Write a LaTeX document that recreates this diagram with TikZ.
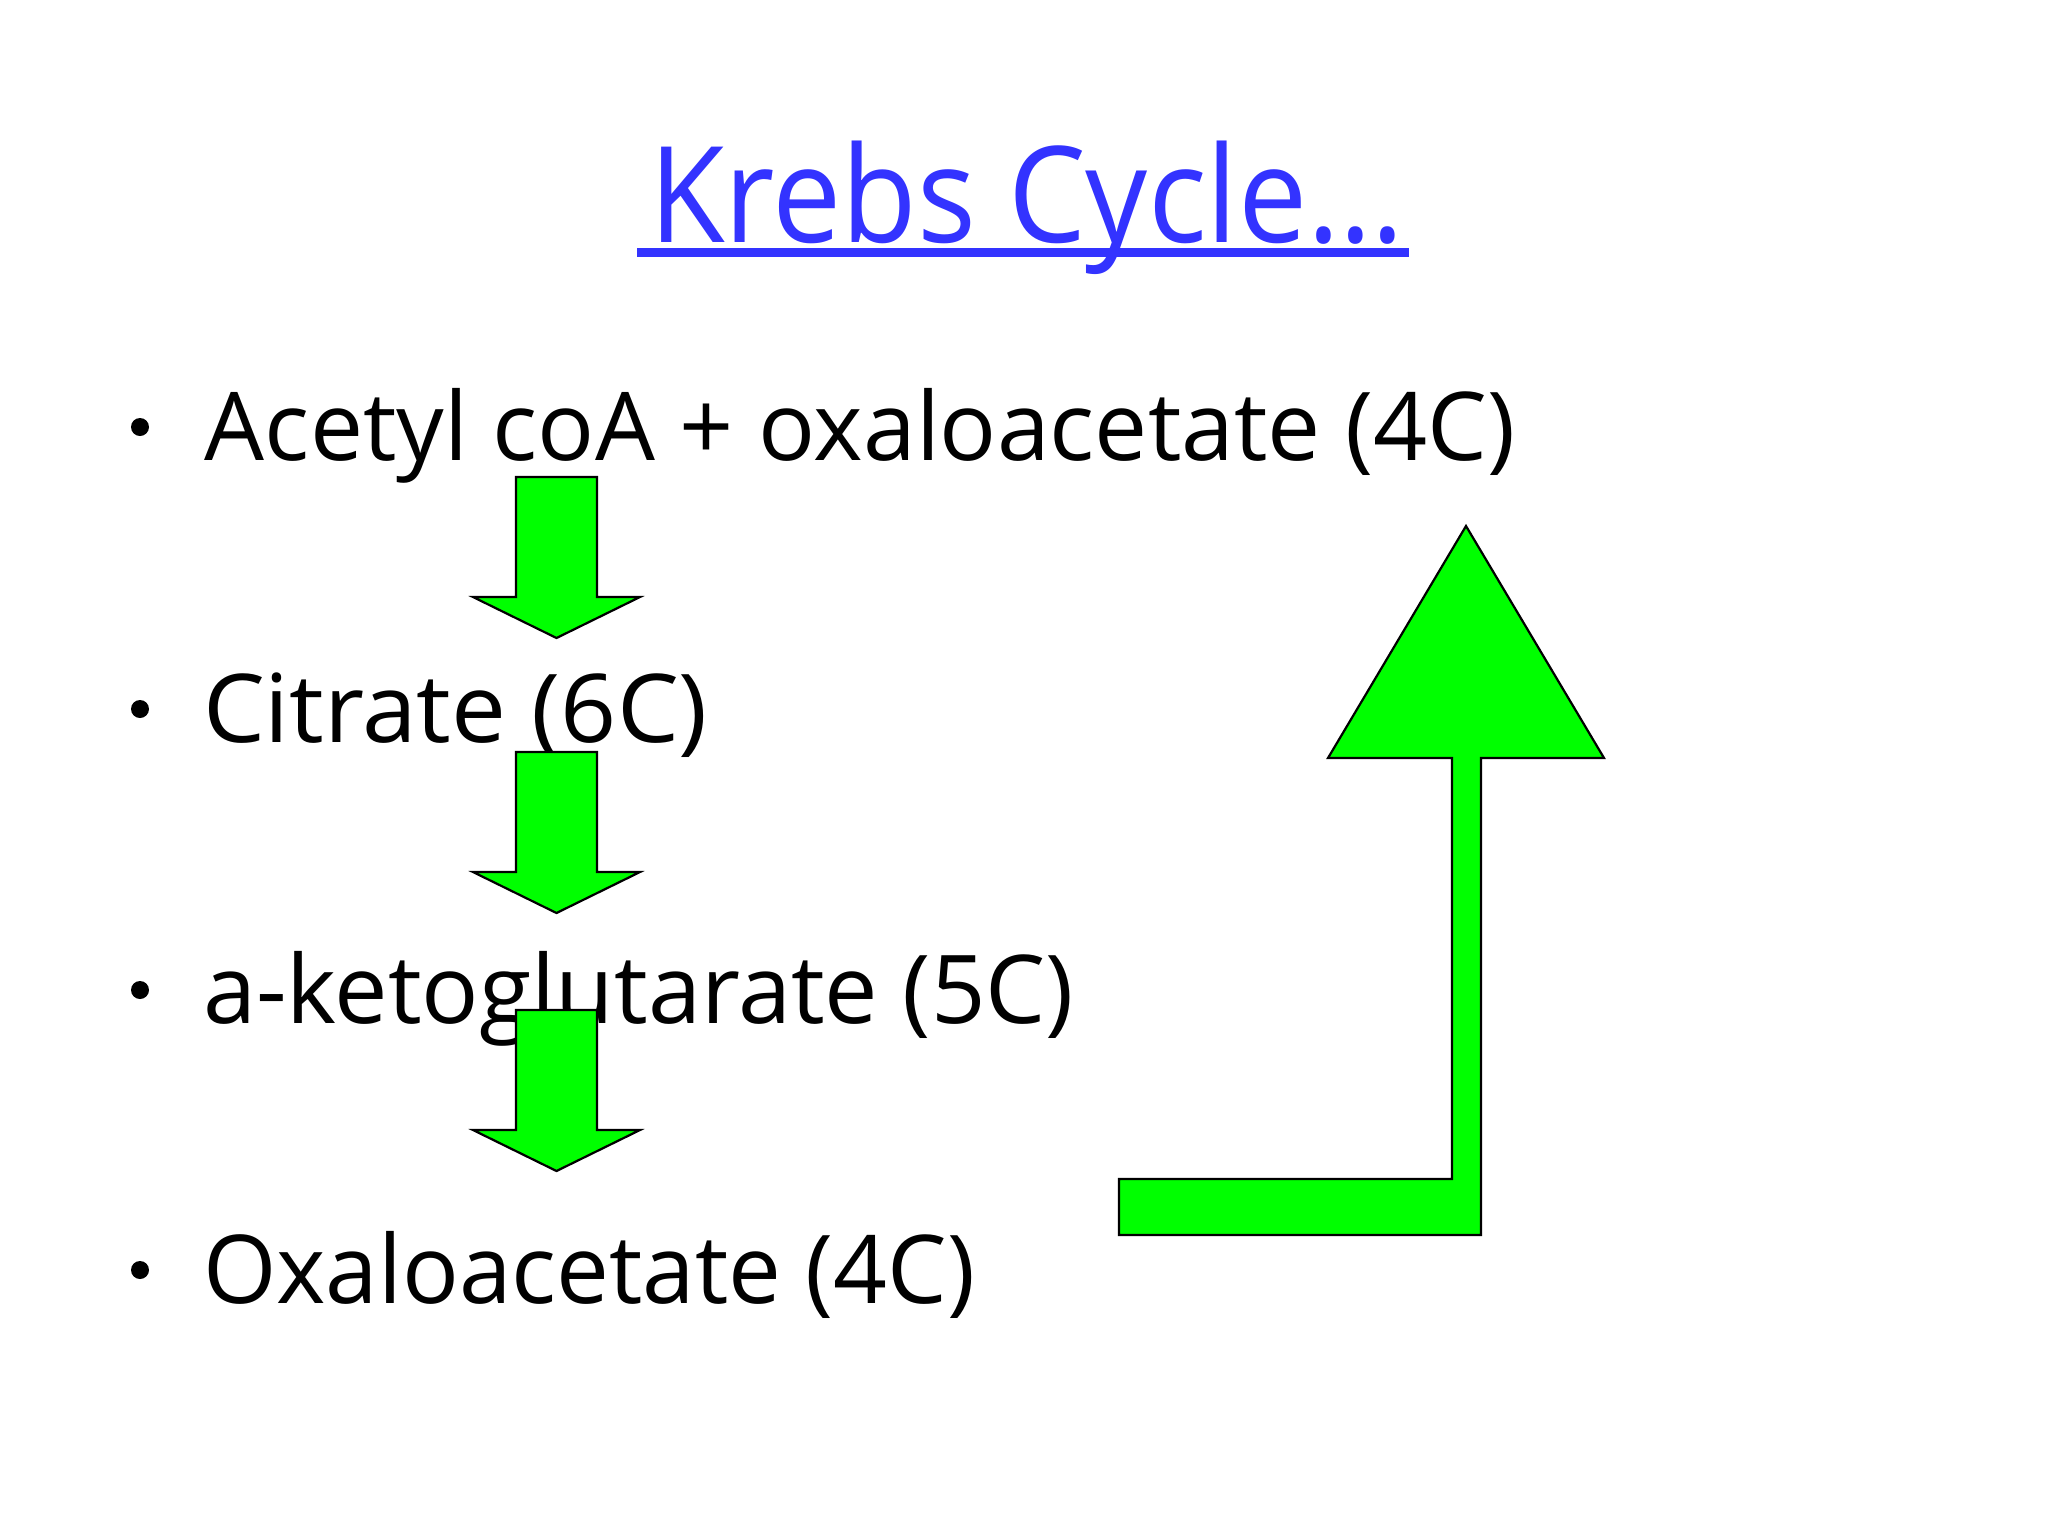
\documentclass[tikz,border=0pt]{standalone}
\usepackage{fontspec}
\usepackage{graphicx}
\setmainfont{Open Sans}
\newlength\pxu
\setlength\pxu{0.01cm}
\definecolor{titleblue}{RGB}{51,51,255}
\definecolor{arrowgreen}{RGB}{0,255,0}
\tikzset{
  linetxt/.style={inner sep=0pt, outer sep=0pt, anchor=base west, font=\fontsize{27}{32}\selectfont, text=black},
  titletxt/.style={inner sep=0pt, outer sep=0pt, anchor=base west, font=\fontsize{38}{44}\selectfont, text=titleblue},
  bulletdot/.style={fill=black, draw=none},
  greenarrow/.style={fill=arrowgreen, draw=black, line width=2.2\pxu, line join=miter},
}
\begin{document}
\begin{tikzpicture}[x=0.01cm, y=-0.01cm]
\fill[white] (0,0) rectangle (2048,1536);
\useasboundingbox (0,0) rectangle (2048,1536);

% title
\node[titletxt] (title) at (649,242) {\resizebox{755\pxu}{\height}{Krebs Cycle…}};
\fill[titleblue] (637,248) rectangle (1409,257);

% bullets
\fill[bulletdot] (140,427) circle (9);
\fill[bulletdot] (140,709) circle (9);
\fill[bulletdot] (140,990) circle (9);
\fill[bulletdot] (140,1270) circle (9);

% lines of text
\node[linetxt] (l1) at (205,460) {\resizebox{1310\pxu}{\height}{Acetyl coA + oxaloacetate (4C)}};
\node[linetxt] (l2) at (203,742) {\resizebox{505\pxu}{\height}{Citrate (6C)}};
\node[linetxt] (l3) at (203,1023) {\resizebox{871\pxu}{\height}{a-ketoglutarate (5C)}};
\node[linetxt] (l4) at (203,1303) {\resizebox{772\pxu}{\height}{Oxaloacetate (4C)}};

% down arrows
\foreach \t in {477,752,1010}{
  \draw[greenarrow] (516,\t) -- (597,\t) -- (597,\t+120) -- (640,\t+120)
    -- (556.5,\t+161) -- (473,\t+120) -- (516,\t+120) -- cycle;
}

% big return arrow
\draw[greenarrow] (1119,1179) -- (1452,1179) -- (1452,758) -- (1328,758)
  -- (1466,526) -- (1604,758) -- (1481,758) -- (1481,1235) -- (1119,1235) -- cycle;
\end{tikzpicture}
\end{document}
